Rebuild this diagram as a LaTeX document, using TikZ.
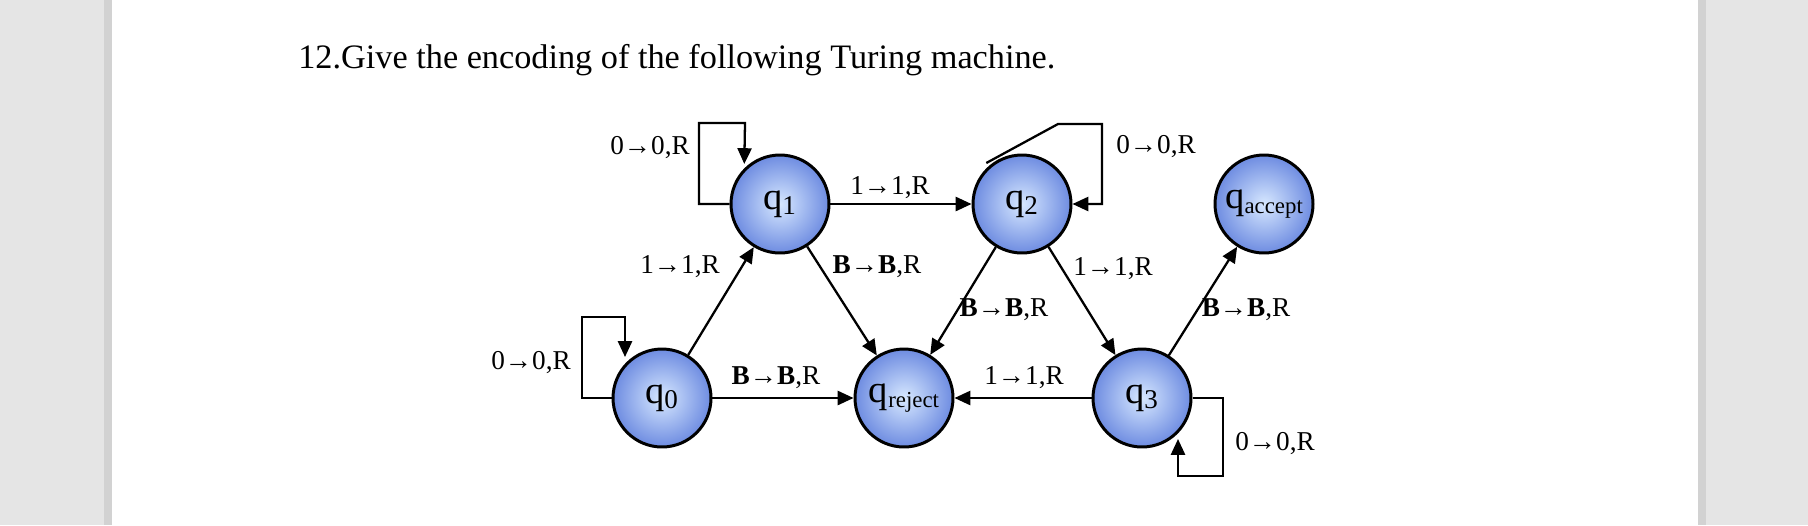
\documentclass[tikz,border=0pt]{standalone}
\usepackage{fontspec}
\setmainfont{Liberation Serif}
\usetikzlibrary{arrows.meta}
\begin{document}
\begin{tikzpicture}[x=0.02cm,y=-0.02cm,
  st/.style={circle,draw,line width=1.7pt,minimum size=1.96cm,inner sep=0pt,inner color={rgb,255:red,215;green,232;blue,255},outer color={rgb,255:red,110;green,140;blue,225},font=\fontsize{22}{22}\selectfont},
  ed/.style={line width=1.3pt,-{Triangle[length=9pt,width=8pt]}},
  lb/.style={font=\fontsize{15.5}{16}\selectfont,inner sep=1pt}]
\useasboundingbox (0,0) rectangle (1808,525);
\fill[gray!20] (0,0) rectangle (112,525);
\fill[gray!20] (1698,0) rectangle (1808,525);
\fill[gray!35] (1698,0) rectangle (1706,525);
\fill[gray!35] (104,0) rectangle (112,525);
\node[font=\fontsize{19.5}{20}\selectfont,anchor=west,inner sep=0pt] (title) at (298,60) {12.Give the encoding of the following Turing machine.};
\node[st] (q1) at (780,204) {q\textsubscript{1}};
\node[st] (q2) at (1022,204) {q\textsubscript{2}};
\node[st] (qa) at (1264,204) {q{\fontsize{13}{13}\selectfont\raisebox{-0.5ex}{accept}}};
\node[st] (q0) at (662,398) {q\textsubscript{0}};
\node[st] (qr) at (904,398) {q{\fontsize{13}{13}\selectfont\raisebox{-0.5ex}{reject}}};
\node[st] (q3) at (1142,398) {q\textsubscript{3}};
% loops
\coordinate (l1) at (699,204);
\draw[ed] (q1.west) -- (699,204) -- (699,123) -- (745,123) -- (q1.north west|-0,164);
\draw[ed] (q0.west) -- (582,398) -- (582,317) -- (625,317) -- (625,357);
\draw[ed] (q2.north west|-0,163) -- (1058,124) -- (1102,124) -- (1102,204) -- (q2.east);
\draw[ed] (q3.east) -- (1223,398) -- (1223,476) -- (1178,476) -- (1178,439);
% edges
\draw[ed] (q1) -- (q2);
\draw[ed] (q0) -- (q1);
\draw[ed] (q1) -- (qr);
\draw[ed] (q2) -- (qr);
\draw[ed] (q2) -- (q3);
\draw[ed] (q3) -- (qa);
\draw[ed] (q0) -- (qr);
\draw[ed] (q3) -- (qr);
% labels
\node[lb] (a) at (650,148) {0→0,R};
\node[lb] (b) at (890,188) {1→1,R};
\node[lb] (c) at (877,267) {\textbf{B}→\textbf{B},R};
\node[lb] (d) at (680,267) {1→1,R};
\node[lb] (e) at (531,363) {0→0,R};
\node[lb] (f) at (1156,147) {0→0,R};
\node[lb] (g) at (1275,444) {0→0,R};
\node[lb] (h) at (776,378) {\textbf{B}→\textbf{B},R};
\node[lb] (i) at (1024,378) {1→1,R};
\node[lb] (j) at (1004,310) {\textbf{B}→\textbf{B},R};
\node[lb] (k) at (1113,269) {1→1,R};
\node[lb] (m) at (1246,310) {\textbf{B}→\textbf{B},R};
\end{tikzpicture}
\end{document}
